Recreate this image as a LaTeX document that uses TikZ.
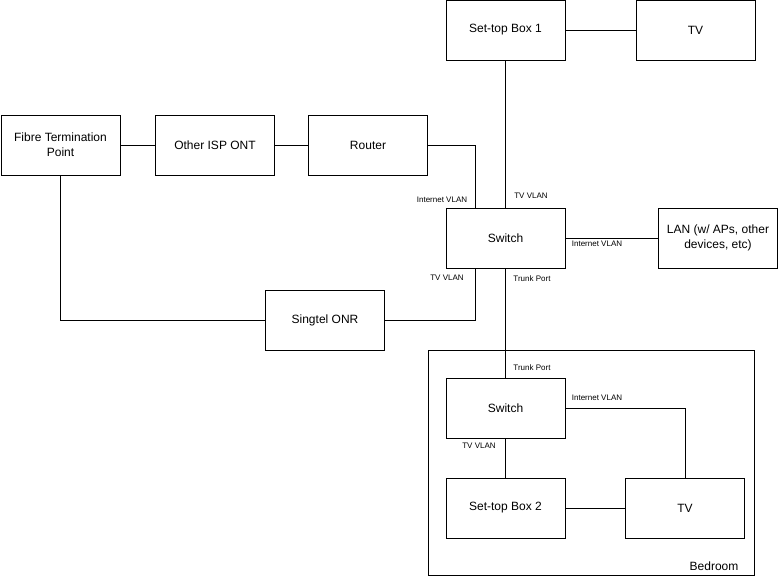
\documentclass[tikz,border=0pt]{standalone}
\usepackage{fontspec}
\setmainfont{Liberation Sans}
\tikzstyle{box}=[draw, inner sep=0pt, minimum width=89.25pt, minimum height=45pt, font=\fontsize{9}{11}\selectfont, align=center]
\tikzstyle{lbl}=[font=\fontsize{6}{7}\selectfont, inner sep=0pt]
\begin{document}
\begin{tikzpicture}[x=0.75pt, y=-0.75pt, line width=0.75pt]
        \useasboundingbox (0, 0) rectangle (779, 576);
        \draw (428, 350) rectangle (754, 575);
        \node[lbl] at (714, 566) {\fontsize{9}{11}\selectfont Bedroom};
        \node[box]                 (stb1) at (505.5, 30) {Set-top Box 1};
        \node[box]                 (tv1) at (695.5, 30) {TV};
        \node[box]                 (ftp) at (60.5, 145) {Fibre Termination\\Point};
        \node[box]                 (ont) at (215, 145) {Other ISP ONT};
        \node[box]                 (rtr) at (368, 145) {Router};
        \node[box]                 (sw1) at (505.5, 238) {Switch};
        \node[box]                 (lan) at (718, 238) {LAN (w/ APs, other\\devices, etc)};
        \node[box]                 (onr) at (325, 320) {Singtel ONR};
        \node[box]                 (sw2) at (505.5, 408) {Switch};
        \node[box]                 (stb2) at (505.5, 508) {Set-top Box 2};
        \node[box]                 (tv2) at (685, 508) {TV};
        \coordinate (a1) at (475, 208);
        \coordinate (a2) at (475, 268);
        \draw (stb1) -- (tv1);
        \draw (ftp) -- (ont) -- (rtr);
        \draw (stb1) -- (sw1);
        \draw (rtr.east) -| (a1);
        \draw (sw1) -- (lan);
        \draw (ftp.south) |- (onr.west);
        \draw (onr.east) -| (a2);
        \draw (sw1) -- (sw2);
        \draw (sw2.east) -| (tv2.north);
        \draw (sw2) -- (stb2) -- (tv2);
        \node[lbl] at (531, 196) {TV VLAN};
        \node[lbl] at (442, 200) {Internet VLAN};
        \node[lbl] at (597, 244) {Internet VLAN};
        \node[lbl] at (447, 278) {TV VLAN};
        \node[lbl] at (532, 279) {Trunk Port};
        \node[lbl] at (532, 368) {Trunk Port};
        \node[lbl] at (597, 398) {Internet VLAN};
        \node[lbl] at (479, 446) {TV VLAN};
    \end{tikzpicture}
\end{document}
